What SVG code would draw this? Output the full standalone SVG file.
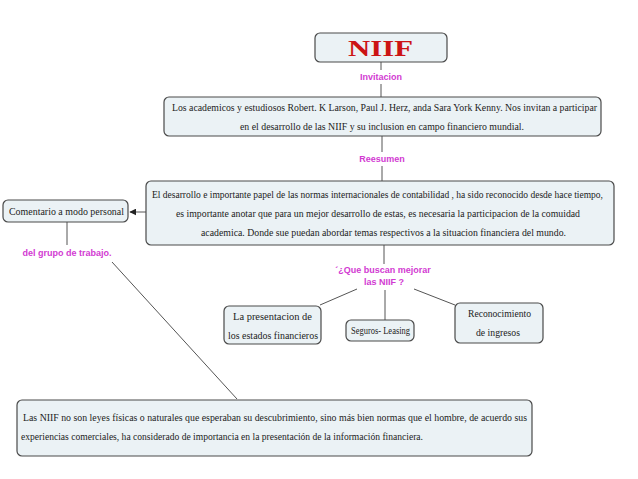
<svg xmlns="http://www.w3.org/2000/svg" width="638" height="479" viewBox="0 0 638 479">
<defs>
<style>
.box{fill:#ebf2f5;stroke:#4a4a4a;stroke-width:1.2}
.t{font-family:"Liberation Serif","Times New Roman",serif;font-size:10.5px;fill:#222}
.s{font-size:10px}
.lbl{font-family:"Liberation Sans",Arial,sans-serif;font-size:9px;font-weight:bold;fill:#d23ad2;text-anchor:middle}
.ln{stroke:#555;stroke-width:1;fill:none}
</style>
<marker id="ah" viewBox="0 0 10 10" refX="9" refY="5" markerWidth="7" markerHeight="7" orient="auto">
<path d="M0,0 L10,5 L0,10 z" fill="#222"/>
</marker>
</defs>
<rect width="638" height="479" fill="#fff"/>
<g id="connectors">
<line class="ln" x1="381" y1="62" x2="381" y2="70"/>
<line class="ln" x1="381" y1="84" x2="381" y2="97"/>
<line class="ln" x1="382" y1="136" x2="382" y2="152"/>
<line class="ln" x1="382" y1="166" x2="382" y2="181"/>
<line class="ln" x1="146" y1="212" x2="130" y2="212" marker-end="url(#ah)"/>
<line class="ln" x1="67" y1="222" x2="67" y2="245"/>
<line class="ln" x1="112" y1="262" x2="237" y2="399"/>
<line class="ln" x1="384" y1="245" x2="384" y2="264"/>
<line class="ln" x1="357" y1="289" x2="320" y2="305"/>
<line class="ln" x1="385" y1="290" x2="385" y2="320"/>
<line class="ln" x1="414" y1="289" x2="455" y2="305"/>
</g>
<g id="niif">
<rect class="box" x="315" y="33" width="132" height="29" rx="5"/>
<text x="348" y="56" font-family="Liberation Serif,serif" font-size="24" font-weight="bold" fill="#cc1414" textLength="65" lengthAdjust="spacingAndGlyphs">NIIF</text>
</g>
<g id="lbl-invitacion"><text class="lbl" x="381" y="80">Invitacion</text></g>
<g id="invitacion">
<rect class="box" x="164" y="97" width="437" height="39" rx="5"/>
<text class="t" x="172" y="111" textLength="425" lengthAdjust="spacingAndGlyphs">Los academicos y estudiosos  Robert. K Larson, Paul J. Herz, anda Sara York Kenny. Nos invitan a participar</text>
<text class="t" x="240" y="130" textLength="284" lengthAdjust="spacingAndGlyphs">en el desarrollo de las NIIF y su inclusion en campo financiero mundial.</text>
</g>
<g id="lbl-reesumen"><text class="lbl" x="382" y="162">Reesumen</text></g>
<g id="resumen">
<rect class="box" x="146" y="181" width="468" height="64" rx="5"/>
<text class="t s" x="152" y="198" textLength="451" lengthAdjust="spacingAndGlyphs">El desarrollo e importante papel de las normas internacionales de contabilidad , ha sido reconocido desde hace tiempo,</text>
<text class="t s" x="176" y="217" textLength="404" lengthAdjust="spacingAndGlyphs">es importante anotar que para un mejor desarrollo de estas, es necesaria la participacion de la comuidad</text>
<text class="t s" x="201" y="236" textLength="365" lengthAdjust="spacingAndGlyphs">academica.  Donde sue puedan abordar temas respectivos a la situacion financiera del mundo.</text>
</g>
<g id="comentario">
<rect class="box" x="3" y="200" width="125" height="22" rx="5"/>
<text class="t" x="9" y="215" textLength="115" lengthAdjust="spacingAndGlyphs">Comentario a modo personal</text>
</g>
<g id="lbl-grupo"><text class="lbl" x="67" y="256">del grupo de trabajo.</text></g>
<g id="lbl-pregunta">
<text class="lbl" x="383" y="273">´¿Que buscan mejorar</text>
<text class="lbl" x="384" y="285">las NIIF ?</text>
</g>
<g id="presentacion">
<rect class="box" x="224" y="306" width="97" height="38" rx="5"/>
<text class="t" x="233" y="320" textLength="79" lengthAdjust="spacingAndGlyphs">La presentacion de</text>
<text class="t" x="228" y="339" textLength="90" lengthAdjust="spacingAndGlyphs">los estados financieros</text>
</g>
<g id="seguros">
<rect class="box" x="346" y="320" width="68" height="21" rx="5"/>
<text class="t" x="351" y="334" textLength="59" lengthAdjust="spacingAndGlyphs">Seguros- Leasing</text>
</g>
<g id="reconocimiento">
<rect class="box" x="455" y="303" width="88" height="40" rx="5"/>
<text class="t" x="468" y="317" textLength="63" lengthAdjust="spacingAndGlyphs">Reconocimiento</text>
<text class="t" x="476" y="336" textLength="44" lengthAdjust="spacingAndGlyphs">de ingresos</text>
</g>
<g id="conclusion">
<rect class="box" x="17" y="400" width="515" height="56" rx="5"/>
<text class="t" x="23" y="421" textLength="504" lengthAdjust="spacingAndGlyphs">Las NIIF no son leyes físicas o naturales que esperaban su descubrimiento, sino más bien normas que el hombre, de acuerdo sus</text>
<text class="t" x="21" y="440" textLength="402" lengthAdjust="spacingAndGlyphs">experiencias comerciales, ha considerado de importancia en la presentación de la información financiera.</text>
</g>
</svg>
